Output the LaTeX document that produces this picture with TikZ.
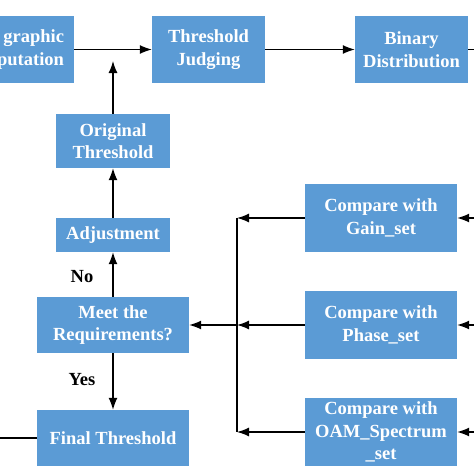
\documentclass[tikz,border=0pt]{standalone}
\usepackage{fontspec}
\setmainfont{Liberation Serif}[BoldFont={Liberation Serif Bold}]
\usetikzlibrary{arrows.meta}
\definecolor{boxblue}{HTML}{5B9BD5}
\tikzstyle{block}=[fill=boxblue, text=white, font=\bfseries\fontsize{18.5}{22.5}\selectfont, align=center, inner sep=0pt, minimum width=152pt, minimum height=68pt]
\tikzstyle{arrow}=[-{Latex[length=12pt,width=9pt]}, line width=1.3pt]
\tikzstyle{lbl}=[font=\bfseries\fontsize{18.5}{22.5}\selectfont]

\begin{document}
\begin{tikzpicture}[x=1pt, y=-1pt]
	\clip (0,0) rectangle (474,474);
% Top row
	\node[block, minimum width=114pt, minimum height=67pt, text width=94pt, align=right] (comp) at (17,49.5) {graphic\\putation};
	\node[block, minimum width=113pt, minimum height=67pt] (judge) at (208.5,49.5) {Threshold\\Judging};
	\node[block, minimum width=113pt, minimum height=67pt] (binary) at (411.5,49.5) {Binary\\Distribution};
% Left column
	\node[block, minimum width=114pt, minimum height=54pt] (orig) at (113,141) {Original\\Threshold};
	\node[block, minimum width=114pt, minimum height=34pt] (adjust) at (113,235) {Adjustment};
	\node[block, minimum height=56pt] (meet) at (113,325) {Meet the\\Requirements?};
	\node[block, minimum height=56pt] (final) at (113,438) {Final Threshold};
% Right column
	\node[block] (gain) at (381,218) {Compare with\\Gain\_set};
	\node[block] (phase) at (381,325) {Compare with\\Phase\_set};
	\node[block] (oam) at (381,432) {Compare with\\OAM\_Spectrum\\\_set};
% Labels
	\node[lbl] (no) at (82,277) {No};
	\node[lbl] (yes) at (82,380) {Yes};
% Free ends and bus
	\coordinate (join) at (113,61);
	\coordinate (outtop) at (476,49.5);
	\coordinate (infinal) at (-2,438);
	\coordinate (busgain) at (237,218);
	\coordinate (busphase) at (237,325);
	\coordinate (busoam) at (237,432);
	\coordinate (ingain) at (476,218);
	\coordinate (inphase) at (476,325);
	\coordinate (inoam) at (476,432);
% Connectors
	\draw[arrow] (comp) -- (judge);
	\draw[arrow] (judge) -- (binary);
	\draw[line width=1.3pt] (binary) -- (outtop);
	\draw[arrow] (orig) -- (join);
	\draw[arrow] (adjust) -- (orig);
	\draw[arrow] (meet) -- (adjust);
	\draw[arrow] (meet) -- (final);
	\draw[line width=1.3pt] (infinal) -- (final);
	\draw[arrow] (gain) -- (busgain);
	\draw[arrow] (phase) -- (busphase);
	\draw[arrow] (oam) -- (busoam);
	\draw[line width=1.3pt] (busgain) -- (busoam);
	\draw[arrow] (busphase) -- (meet);
	\draw[arrow] (ingain) -- (gain);
	\draw[arrow] (inphase) -- (phase);
	\draw[arrow] (inoam) -- (oam);
\end{tikzpicture}
\end{document}
